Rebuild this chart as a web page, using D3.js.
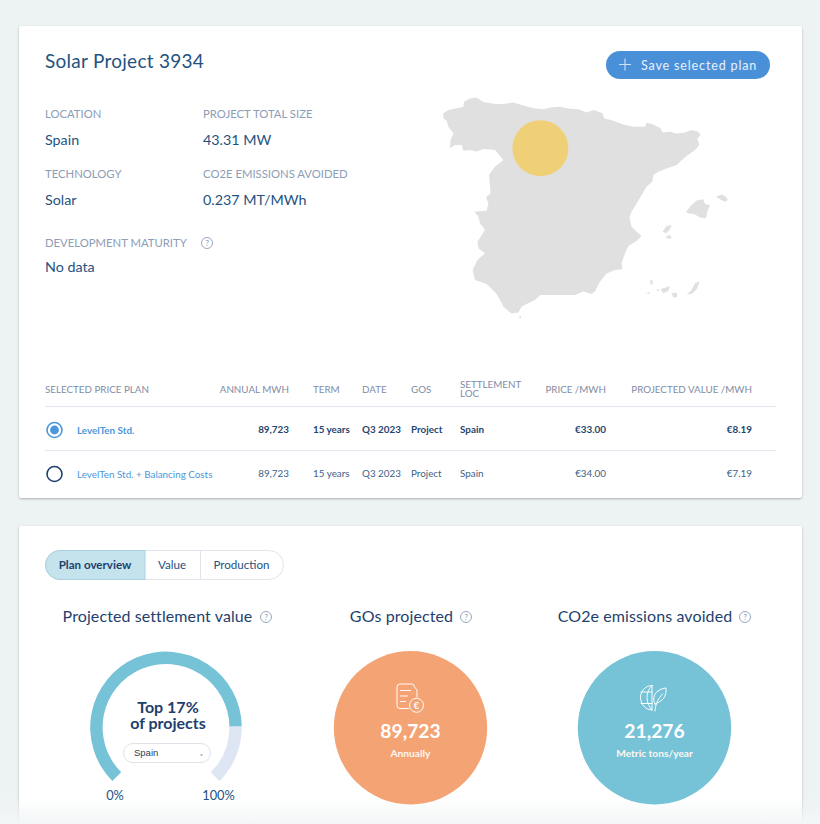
<!DOCTYPE html>
<html><head><meta charset="utf-8">
<script src="https://cdn.jsdelivr.net/npm/d3@7"></script>
<style>html,body{margin:0;padding:0;background:#edf2f3;overflow:hidden}svg{display:block}text{font-family:Lato,sans-serif}</style>
</head><body><div id="c"></div>
<script>
// ---------- data ----------
const projectTitle = "Solar Project 3934";
const facts = [
  ["LOCATION","Spain"],["PROJECT TOTAL SIZE","43.31 MW"],
  ["TECHNOLOGY","Solar"],["CO2E EMISSIONS AVOIDED","0.237 MT/MWh"],
  ["DEVELOPMENT MATURITY","No data"]];
const tableHeaders = ["SELECTED PRICE PLAN","ANNUAL MWH","TERM","DATE","GOS",["SETTLEMENT","LOC"],"PRICE /MWH","PROJECTED VALUE /MWH"];
const planRows = [
  ["LevelTen Std.","89,723","15 years","Q3 2023","Project","Spain","€33.00","€8.19"],
  ["LevelTen Std. + Balancing Costs","89,723","15 years","Q3 2023","Project","Spain","€34.00","€7.19"]];
const tabs = ["Plan overview","Value","Production"];
const percentile = 83;
const metricTitles = ["Projected settlement value","GOs projected","CO2e emissions avoided"];
const goValue = "89,723", goSub = "Annually";
const co2Value = "21,276", co2Sub = "Metric tons/year";
// Spain outline, [lon, lat] degrees
const mainland = [[-9.28,43.22],[-9.03,43.34],[-8.62,43.40],[-8.28,43.45],[-8.25,43.63],[-7.95,43.75],[-7.62,43.78],[-7.28,43.62],[-6.70,43.55],[-6.28,43.55],[-5.78,43.60],[-5.28,43.50],[-4.78,43.40],[-4.28,43.36],[-3.87,43.43],[-3.45,43.45],[-2.95,43.38],[-2.53,43.36],[-2.12,43.25],[-1.75,43.34],[-1.32,43.22],[-1.25,43.04],[-0.78,42.95],[-0.28,42.82],[0.22,42.74],[0.80,42.74],[0.88,42.88],[1.22,42.82],[1.58,42.68],[1.68,42.53],[2.05,42.56],[2.38,42.50],[2.80,42.53],[3.13,42.62],[3.47,42.56],[3.58,42.44],[3.42,42.32],[3.52,42.09],[3.30,41.91],[2.88,41.69],[2.55,41.49],[2.38,41.37],[1.88,41.25],[1.47,41.13],[1.22,41.01],[1.17,40.78],[0.88,40.60],[0.63,40.30],[0.38,40.00],[0.13,39.70],[0.02,39.50],[0.13,39.17],[0.38,38.99],[0.63,38.84],[0.38,38.66],[-0.03,38.48],[-0.20,38.22],[-0.37,37.86],[-0.33,37.65],[-0.70,37.62],[-1.12,37.50],[-1.45,37.20],[-1.70,36.85],[-1.87,36.76],[-2.28,36.85],[-2.70,36.73],[-3.28,36.73],[-3.87,36.73],[-4.42,36.73],[-4.70,36.55],[-5.12,36.41],[-5.37,36.31],[-5.53,36.10],[-5.87,36.07],[-6.28,36.31],[-6.45,36.55],[-6.65,36.79],[-7.12,37.12],[-7.70,37.26],[-7.82,37.62],[-7.58,37.98],[-7.20,38.22],[-7.53,38.40],[-7.58,38.63],[-7.20,39.05],[-7.45,39.29],[-7.53,39.53],[-7.73,39.70],[-7.12,39.74],[-7.03,40.00],[-7.15,40.22],[-6.92,40.36],[-7.00,41.01],[-6.70,41.31],[-6.28,41.55],[-6.70,41.91],[-7.28,41.94],[-7.62,41.85],[-7.95,41.91],[-8.28,41.88],[-8.37,42.09],[-8.70,42.09],[-8.95,41.97],[-8.92,42.26],[-8.78,42.50],[-9.03,42.74],[-9.12,42.95],[-9.28,43.04]];
const mallorca = [[2.85,39.70],[3.13,39.94],[3.38,40.10],[3.72,40.15],[3.80,39.98],[4.05,39.94],[3.92,39.70],[3.85,39.47],[3.55,39.50],[3.25,39.62],[2.97,39.64]];
const menorca = [[4.35,40.24],[4.63,40.32],[4.80,40.26],[4.95,40.12],[4.80,40.06],[4.55,40.15]];
const ibiza = [[1.68,38.99],[1.88,39.19],[2.13,39.23],[2.02,39.05],[1.85,38.93]];
const formentera = [[1.88,38.84],[2.05,38.87],[2.13,38.75],[1.88,38.75]];
const canary1 = [[1.05,37.26],[1.18,37.24],[1.18,37.09],[1.08,37.12]];
const canary2 = [[0.85,36.79],[1.02,36.84],[1.05,36.76]];
const canary3 = [[1.35,36.91],[1.52,36.93],[1.48,36.86]];
const canary4 = [[1.58,36.93],[2.05,37.05],[1.97,36.88],[1.72,36.79]];
const canary5 = [[2.13,36.79],[2.38,36.82],[2.42,36.67],[2.22,36.63]];
const canary6 = [[2.88,36.73],[3.13,36.91],[3.30,37.15],[3.52,37.22],[3.42,36.97],[3.18,36.79]];
const ceuta = [[-5.53,35.95],[-5.40,35.98],[-5.40,35.88]];
const landParts = [mainland,mallorca,menorca,ibiza,formentera,canary1,canary2,canary3,canary4,canary5,canary6,ceuta];
const siteLocation = [-4.43,41.97];

// ---------- page ----------
const W=820,H=824;
const navy="#1f3f6e", steel="#24527f", muted="#8d9db6", headCol="#7f8ca6", rule="#e2e8f0", teal="#76c3d8", orange="#f4a474", link="#4b97dc";
const svg=d3.select("#c").append("svg").attr("width",W).attr("height",H);
const defs=svg.append("defs");
const sh=defs.append("filter").attr("id","sh").attr("x","-5%").attr("y","-5%").attr("width","110%").attr("height","110%");
sh.append("feDropShadow").attr("dx",0).attr("dy",1).attr("stdDeviation",1.3).attr("flood-color","#000").attr("flood-opacity",.28);
const fadeGrad=defs.append("linearGradient").attr("id","fade").attr("x1",0).attr("x2",0).attr("y1",0).attr("y2",1);
fadeGrad.append("stop").attr("offset",0).attr("stop-color","#f3f6f7").attr("stop-opacity",0);
fadeGrad.append("stop").attr("offset",1).attr("stop-color","#f3f6f7").attr("stop-opacity",1);

svg.append("rect").attr("width",W).attr("height",H).attr("fill","#edf2f3");
svg.append("rect").attr("x",19).attr("y",26).attr("width",783).attr("height",472).attr("rx",3).attr("fill","#fff").attr("filter","url(#sh)");
svg.append("rect").attr("x",19).attr("y",526).attr("width",783).attr("height",320).attr("rx",3).attr("fill","#fff").attr("filter","url(#sh)");
// bottom fade sits under the marks
svg.append("rect").attr("x",0).attr("y",796).attr("width",W).attr("height",28).attr("fill","url(#fade)");

function txt(g,s,x,y,o={}){
  return g.append("text").attr("x",x).attr("y",y).text(s)
   .attr("font-size",o.size||12).attr("fill",o.fill||navy).attr("font-weight",o.weight||400)
   .attr("text-anchor",o.anchor||"start").attr("letter-spacing",o.ls||0)
   .style("font-family",o.family||null);
}
function help(g,cx,cy,r=5.5){
  g.append("circle").attr("cx",cx).attr("cy",cy).attr("r",r).attr("fill","none").attr("stroke","#98a8c2").attr("stroke-width",1);
  txt(g,"?",cx,cy+r*.55,{size:r*1.5,fill:"#8d9db6",anchor:"middle"});
}

// header
const hdr=svg.append("g");
txt(hdr,projectTitle,45,67.5,{size:19,fill:steel,ls:.27});
hdr.append("rect").attr("x",606).attr("y",51).attr("width",164).attr("height",28).attr("rx",14).attr("fill","#4a90d9");
hdr.append("path").attr("d","M625 58.5V70.5M619 64.5H631").attr("stroke","#cfe2f6").attr("stroke-width",1.1);
txt(hdr,"Save selected plan",641,69.5,{size:12.5,fill:"#e8f1fb",ls:.85});

const factPos=[[45,118,145],[203,118,145],[45,178,205],[203,178,205],[45,247,272]];
facts.forEach((f,i)=>{
  const [x,y1,y2]=factPos[i];
  txt(hdr,f[0],x,y1,{size:11.3,fill:muted});
  txt(hdr,f[1],x,y2,{size:14.3,fill:steel});
});
help(hdr,207,243,5.5);

// map
const mapX=d3.scaleLinear().domain([-9.3,5.8]).range([443,745]);
const mapY=d3.scaleLinear().domain([43.8,35.9]).range([97,318.2]);
const landLine=d3.line().x(d=>mapX(d[0])).y(d=>mapY(d[1])).curve(d3.curveLinearClosed);
svg.append("g").selectAll("path").data(landParts).join("path").attr("d",landLine).attr("fill","#e0e0e0");
svg.append("circle").attr("cx",mapX(siteLocation[0])).attr("cy",mapY(siteLocation[1])).attr("r",28).attr("fill","#efd077");

// table
const tbl=svg.append("g");
const cols=[[45,"start"],[289,"end"],[313,"start"],[362,"start"],[411,"start"],[460,"start"],[606,"end"],[752,"end"]];
tableHeaders.forEach((h,i)=>{
  if(Array.isArray(h)){
    txt(tbl,h[0],cols[i][0],388,{size:9.8,fill:headCol});
    txt(tbl,h[1],cols[i][0],397,{size:9.8,fill:headCol});
  } else txt(tbl,h,cols[i][0],393,{size:9.8,fill:headCol,anchor:cols[i][1]});
});
[406.5,450.5].forEach(y=>tbl.append("line").attr("x1",45).attr("x2",776).attr("y1",y).attr("y2",y).attr("stroke",rule));
planRows.forEach((r,ri)=>{
  const y=ri?477:433, bold=ri===0;
  r.forEach((v,i)=>{
    const x=i===0?77:cols[i][0];
    txt(tbl,v,x,i===0?y+1:y,{size:9.85,weight:bold?700:400,anchor:cols[i][1],fill:i===0?link:(bold?"#1f466f":"#3b6288")});
  });
});
tbl.append("circle").attr("cx",54.5).attr("cy",430).attr("r",7.5).attr("fill","#fff").attr("stroke",link).attr("stroke-width",1.6);
tbl.append("circle").attr("cx",54.5).attr("cy",430).attr("r",4.4).attr("fill",link);
tbl.append("circle").attr("cx",54.5).attr("cy",474).attr("r",7.5).attr("fill","#fff").attr("stroke",navy).attr("stroke-width",1.6);

// tabs
const tabG=svg.append("g");
tabG.append("rect").attr("x",45.5).attr("y",550.5).attr("width",238).attr("height",29).attr("rx",14.5).attr("fill","#fff").attr("stroke","#dfe5ea");
tabG.append("path").attr("d","M145 550.5H60a14.5 14.5 0 0 0 0 29H145Z").attr("fill","#c5e3ec").attr("stroke","#a9d0dc");
tabG.append("line").attr("x1",200.5).attr("x2",200.5).attr("y1",550.5).attr("y2",579.5).attr("stroke","#dfe5ea");
[[95,700],[172,400],[241.5,400]].forEach((p,i)=>txt(tabG,tabs[i],p[0],569,{size:11.6,anchor:"middle",weight:p[1],fill:i?"#24527f":navy}));

// metric titles
const metricG=svg.append("g");
[[157.5,266],[401.5,466],[645,745]].forEach((p,i)=>{
  txt(metricG,metricTitles[i],p[0],622,{size:16,anchor:"middle",fill:navy,ls:.1});
  help(metricG,p[1],617,5.5);
});

// gauge
const gx=166,gy=727.4,rO=75.8,rI=63.4;
const ang=d3.scaleLinear().domain([0,100]).range([-135,135].map(a=>a*Math.PI/180));
const arc=d3.arc().innerRadius(rI).outerRadius(rO);
const gaugeG=svg.append("g").attr("transform",`translate(${gx},${gy})`);
gaugeG.append("path").attr("d",arc({startAngle:ang(percentile),endAngle:ang(100)})).attr("fill","#dfe6f3");
gaugeG.append("path").attr("d",arc({startAngle:ang(0),endAngle:ang(percentile)})).attr("fill",teal);
txt(svg,"Top 17%",168,713,{size:16,weight:700,anchor:"middle",fill:navy});
txt(svg,"of projects",168,729,{size:16,weight:700,anchor:"middle",fill:navy});
svg.append("rect").attr("x",123.5).attr("y",743.5).attr("width",87).attr("height",19).attr("rx",9.5).attr("fill","#fff").attr("stroke","#dde3e8");
txt(svg,"Spain",134,756,{size:9.5,fill:"#2d3f55",family:"'Liberation Sans',sans-serif"});
svg.append("path").attr("d","M200 754.5h3l-1.5 1.5z").attr("fill","#7d8896");
txt(svg,"0%",115,800,{size:12.8,anchor:"middle",fill:steel});
txt(svg,"100%",218.500,800,{size:12.8,anchor:"middle",fill:steel});

// value circles
function bubble(x,col,val,sub){
  svg.append("circle").attr("cx",x).attr("cy",727.8).attr("r",76.7).attr("fill",col);
  txt(svg,val,x,738,{size:19.3,weight:700,anchor:"middle",fill:"#fff"});
  txt(svg,sub,x,757,{size:10.2,weight:700,anchor:"middle",fill:"#fdf7f2"});
}
bubble(410.5,orange,goValue,goSub);
bubble(654.5,teal,co2Value,co2Sub);

// icons
const ic={fill:"none",stroke:"#fff","stroke-width":.95,"stroke-linecap":"round","stroke-linejoin":"round"};
function icon(d){const p=svg.append("path").attr("d",d);Object.entries(ic).forEach(([k,v])=>p.attr(k,v));}
icon("M408.5 708.5H400a3 3 0 0 1-3-3V687a3 3 0 0 1 3-3h11.5a3 3 0 0 1 3 3 l2.5 3V697M400.500 690.5h10M400.500 696h7M400.500 701.500h5");
svg.append("circle").attr("cx",416.5).attr("cy",705.3).attr("r",7).attr("fill","none").attr("stroke","#fff").attr("stroke-width",.95);
txt(svg,"€",416.5,708.6,{size:9.5,fill:"#fff",anchor:"middle",weight:700});
icon("M652 685.5c-6.500 0-11.500 5.500-11.500 12s5 12.500 11.500 12.500M652 685.500V710M652 685.500c-3 3-5 7-5 12s2 9 5 12.500M641 692h11M641 703.500h11");
icon("M655 704c-2.500-4-1.500-10 3-13 2-1.500 6-3 8-3 .5 3-.5 8-2.500 10.500-2.500 3-6 4.500-8.500 5.500ZM655 711c.5-7 3-12 7.500-17");
</script></body></html>
